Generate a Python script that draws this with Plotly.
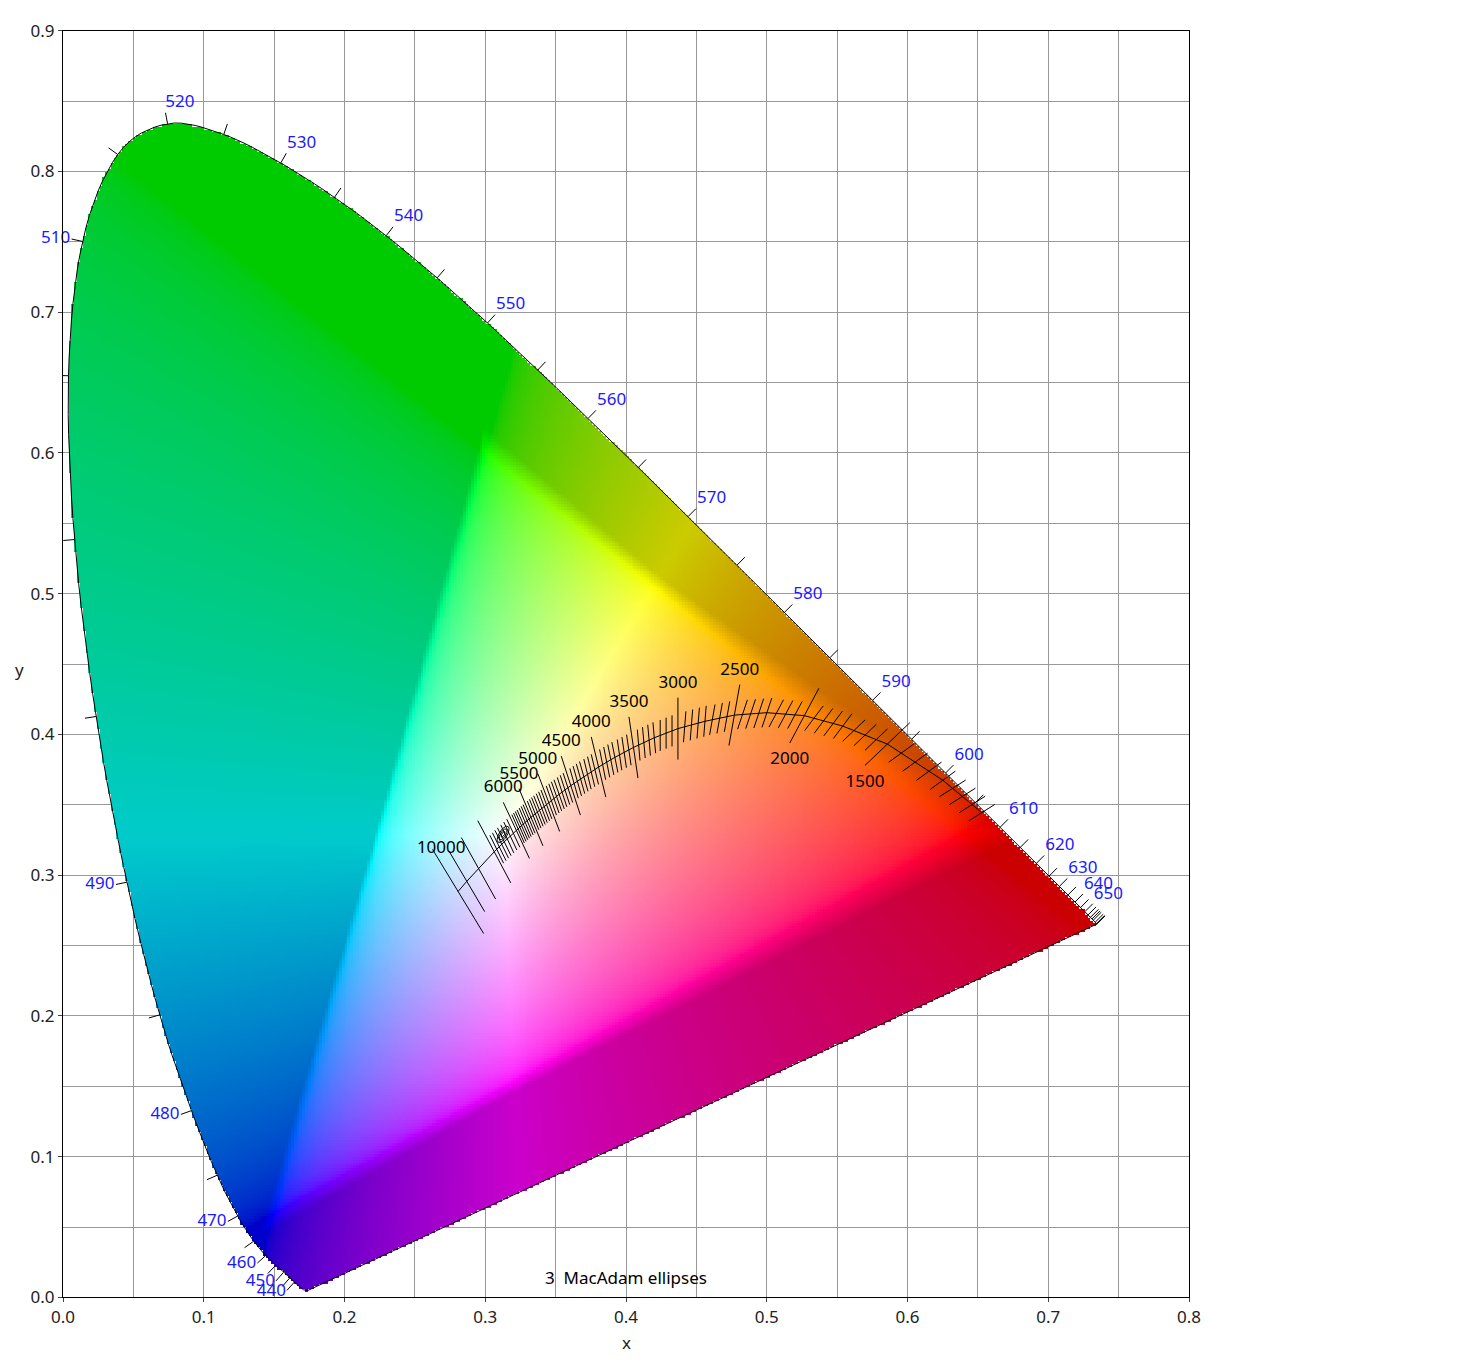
import numpy as np
import plotly.graph_objects as go

# Spectral locus (CIE 1931 2deg), nm, x, y
wl = [380,385,390,395,400,405,410,415,420,425,430,435,440,445,450,455,460,465,470,475,480,485,490,495,500,505,510,515,520,525,530,535,540,545,550,555,560,565,570,575,580,585,590,595,600,605,610,615,620,625,630,635,640,645,650,655,660,665,670,680,690,700]
lx = [0.1741,0.1740,0.1738,0.1736,0.1733,0.1730,0.1726,0.1721,0.1714,0.1703,0.1689,0.1669,0.1644,0.1611,0.1566,0.1510,0.1440,0.1355,0.1241,0.1096,0.0913,0.0687,0.0454,0.0235,0.0082,0.0039,0.0139,0.0389,0.0743,0.1142,0.1547,0.1929,0.2296,0.2658,0.3016,0.3373,0.3731,0.4087,0.4441,0.4788,0.5125,0.5448,0.5752,0.6029,0.6270,0.6482,0.6658,0.6801,0.6915,0.7006,0.7079,0.7140,0.7190,0.7230,0.7260,0.7283,0.7300,0.7311,0.7320,0.7334,0.7344,0.7347]
ly = [0.0050,0.0050,0.0049,0.0049,0.0048,0.0048,0.0048,0.0048,0.0051,0.0058,0.0069,0.0086,0.0109,0.0138,0.0177,0.0227,0.0297,0.0399,0.0578,0.0868,0.1327,0.2007,0.2950,0.4127,0.5384,0.6548,0.7502,0.8120,0.8338,0.8262,0.8059,0.7816,0.7543,0.7243,0.6923,0.6589,0.6245,0.5896,0.5547,0.5202,0.4866,0.4544,0.4242,0.3965,0.3725,0.3514,0.3340,0.3197,0.3083,0.2993,0.2920,0.2859,0.2809,0.2770,0.2740,0.2717,0.2700,0.2689,0.2680,0.2666,0.2656,0.2653]

# Planckian locus
cct = [1000,1200,1500,1750,2000,2250,2500,2750,3000,3250,3500,3750,4000,4250,4500,4750,5000,5250,5500,5750,6000,6500,7000,8000,9000,10000]
px_ = [0.6528,0.6251,0.5857,0.5540,0.5267,0.5001,0.4770,0.4561,0.4369,0.4201,0.4053,0.3921,0.3805,0.3700,0.3608,0.3525,0.3451,0.3385,0.3325,0.3270,0.3221,0.3135,0.3064,0.2952,0.2869,0.2807]
py_ = [0.3444,0.3674,0.3931,0.4059,0.4133,0.4154,0.4137,0.4093,0.4041,0.3976,0.3907,0.3837,0.3768,0.3701,0.3636,0.3574,0.3516,0.3462,0.3411,0.3363,0.3318,0.3237,0.3166,0.3048,0.2956,0.2884]
cct_labels = [1500,2000,2500,3000,3500,4000,4500,5000,5500,6000,10000]

tri_x = [0.64,0.30,0.15]
tri_y = [0.33,0.60,0.06]

def smooth(xs, ys, k=8):
    P = np.column_stack([xs, ys]); out = []
    for i in range(len(P)-1):
        p0 = P[max(i-1, 0)]; p1 = P[i]; p2 = P[i+1]; p3 = P[min(i+2, len(P)-1)]
        for t in np.linspace(0, 1, k, endpoint=False):
            out.append(0.5*((2*p1)+(-p0+p2)*t+(2*p0-5*p1+4*p2-p3)*t*t+(-p0+3*p1-3*p2+p3)*t**3))
    out.append(P[-1])
    out = np.array(out)
    return out[:, 0], out[:, 1]
sx, sy = smooth(lx, ly)

# ---- colour image ----
res = 0.002
gx = np.arange(0, 0.8, res) + res/2
gy = np.arange(0, 0.9, res) + res/2
X, Y = np.meshgrid(gx, gy)
polx = np.array(sx); poly = np.array(sy)
inside = np.zeros(X.shape, bool)
n = len(polx)
for i in range(n):
    x1, y1 = polx[i], poly[i]; x2, y2 = polx[(i+1) % n], poly[(i+1) % n]
    if y1 == y2:
        continue
    cond = ((y1 > Y) != (y2 > Y))
    xi = (x2-x1)*(Y-y1)/(y2-y1)+x1
    inside ^= cond & (X < xi)
Yc = np.maximum(Y, 1e-6)
XX = X/Yc; YY = np.ones_like(X); ZZ = (1-X-Y)/Yc
R = 3.2406*XX-1.5372*YY-0.4986*ZZ
G = -0.9689*XX+1.8758*YY+0.0415*ZZ
B = 0.0557*XX-0.2040*YY+1.0570*ZZ
lin = np.stack([R, G, B], -1)
mx = np.maximum(lin.max(-1), 1e-9)
neg = np.clip(-lin.min(-1)/mx, 0, None)
shade = 1.0-0.2*np.clip(neg*40, 0, 1)
rgb = np.clip(lin, 0, None)
rgb = rgb/np.maximum(rgb.max(-1, keepdims=True), 1e-9)
rgb = np.where(rgb <= 0.0031308, 12.92*rgb, 1.055*np.power(rgb, 1/2.4)-0.055)
rgb = rgb*shade[..., None]
img = np.zeros(X.shape+(4,), np.uint8)
img[..., :3] = (np.clip(rgb, 0, 1)*255).astype(np.uint8)
img[..., 3] = np.where(inside, 255, 0)

fig = go.Figure()
fig.add_trace(go.Image(z=img, colormodel='rgba', x0=res/2, dx=res, y0=res/2, dy=res, hoverinfo='skip'))
fig.add_trace(go.Scatter(x=list(sx)+[sx[0]], y=list(sy)+[sy[0]], mode='lines', line=dict(color='black', width=1), hoverinfo='skip'))

# wavelength ticks and labels
cx, cy = 0.33, 0.33
tkx, tky, labx, laby, labt, lpos = [], [], [], [], [], []
for i, w in enumerate(wl):
    if w < 440 or w > 700:
        continue
    a = max(i-1, 0); b = min(i+1, len(wl)-1)
    tx, ty = lx[b]-lx[a], ly[b]-ly[a]
    nrm = np.hypot(tx, ty) or 1
    nx, ny = -ty/nrm, tx/nrm
    if nx*(lx[i]-cx)+ny*(ly[i]-cy) < 0:
        nx, ny = -nx, -ny
    L = 0.008
    tkx += [lx[i], lx[i]+nx*L, None]; tky += [ly[i], ly[i]+ny*L, None]
    if w % 10 == 0 and w <= 650:
        labx.append(lx[i]+nx*0.009); laby.append(ly[i]+ny*0.009); labt.append(str(w))
        lpos.append('top right' if nx >= -0.2 else 'middle left')
fig.add_trace(go.Scatter(x=tkx, y=tky, mode='lines', line=dict(color='black', width=1), hoverinfo='skip'))
fig.add_trace(go.Scatter(x=labx, y=laby, mode='text', text=labt, textposition=lpos, cliponaxis=False,
                         textfont=dict(color='#1a1aff', size=17, family='Noto Sans'), hoverinfo='skip'))

# Planckian locus
fig.add_trace(go.Scatter(x=px_, y=py_, mode='lines', line=dict(color='black', width=1), hoverinfo='skip'))
ix, iy, tlx, tly, tlt = [], [], [], [], []
ang = np.deg2rad(-18)
for i in range(len(cct)):
    a = max(i-1, 0); b = min(i+1, len(cct)-1)
    tx, ty = px_[b]-px_[a], py_[b]-py_[a]
    nrm = np.hypot(tx, ty)
    nx, ny = -ty/nrm, tx/nrm
    if ny < 0:
        nx, ny = -nx, -ny
    dx = nx*np.cos(ang)-ny*np.sin(ang); dy = nx*np.sin(ang)+ny*np.cos(ang)
    big = cct[i] >= 7000
    pts = [(px_[i], py_[i], cct[i] in cct_labels)]
    if i+1 < len(cct) and not big:
        for f in (0.25, 0.5, 0.75):
            pts.append((px_[i]+f*(px_[i+1]-px_[i]), py_[i]+f*(py_[i+1]-py_[i]), False))
    for (x0, y0, major) in pts:
        L = 0.022 if major else 0.011
        if big:
            L = 0.035 if cct[i] == 10000 else 0.025
        ix += [x0-dx*L, x0+dx*L, None]; iy += [y0-dy*L, y0+dy*L, None]
    if cct[i] in cct_labels:
        if cct[i] <= 2000:
            tlx.append(px_[i]-dx*0.022); tly.append(py_[i]-dy*0.022-0.012)
        elif cct[i] == 10000:
            tlx.append(px_[i]-0.012); tly.append(py_[i]+0.03)
        else:
            tlx.append(px_[i]+dx*0.022); tly.append(py_[i]+dy*0.022+0.01)
        tlt.append(str(cct[i]))
fig.add_trace(go.Scatter(x=ix, y=iy, mode='lines', line=dict(color='black', width=1), hoverinfo='skip'))
fig.add_trace(go.Scatter(x=tlx, y=tly, mode='text', text=tlt, textfont=dict(color='black', size=17, family='Noto Sans'), hoverinfo='skip'))

# MacAdam ellipses around D65 (3 steps)
t = np.linspace(0, 2*np.pi, 60)
th = np.deg2rad(58)
for k in (1, 2, 3):
    a, b = 0.0022*k, 0.00095*k
    ex = 0.3127+a*np.cos(t)*np.cos(th)-b*np.sin(t)*np.sin(th)
    ey = 0.3290+a*np.cos(t)*np.sin(th)+b*np.sin(t)*np.cos(th)
    fig.add_trace(go.Scatter(x=ex, y=ey, mode='lines', line=dict(color='black', width=1), hoverinfo='skip'))
fig.add_annotation(x=0.40, y=0.014, text='3  MacAdam ellipses', showarrow=False, font=dict(size=17, color='black', family='Noto Sans'))

fig.update_layout(
    width=1464, height=1369, showlegend=False, plot_bgcolor='white', paper_bgcolor='white',
    margin=dict(l=55, r=283, t=22, b=79, autoexpand=False),
    font=dict(family='Noto Sans', size=17, color='#222'),
    xaxis=dict(range=[0, 0.8], tickvals=[i/10 for i in range(9)], ticktext=[f'{i/10:.1f}' for i in range(9)],
               showgrid=False, zeroline=False, showline=True, linecolor='black', mirror=True, ticks='outside', ticklen=4,
               minor=dict(dtick=0.05, showgrid=True, gridcolor='#999')),
    yaxis=dict(range=[0, 0.9], tickvals=[i/10 for i in range(10)], ticktext=[f'{i/10:.1f}' for i in range(10)],
               showgrid=False, zeroline=False, showline=True, linecolor='black', mirror=True, ticks='outside', ticklen=4,
               minor=dict(dtick=0.05, showgrid=True, gridcolor='#999')),
)
fig.add_annotation(xref='paper', yref='paper', x=0.5, y=0, yshift=-58, text='x', showarrow=False, font=dict(size=17))
fig.add_annotation(xref='paper', yref='paper', x=0, xshift=-50, y=0.5, yshift=-5, text='y', showarrow=False, font=dict(size=17))
fig.write_html('out.html')
